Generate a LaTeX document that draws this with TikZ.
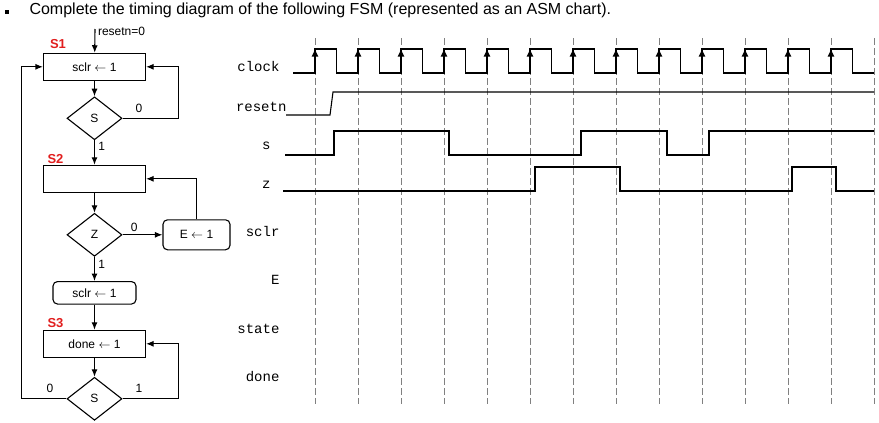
\documentclass[tikz,border=0pt]{standalone}
\usepackage{fontspec}
\setmainfont{Liberation Sans}
\newfontfamily\wavefont{Liberation Mono}
\definecolor{statered}{RGB}{225,30,30}
\definecolor{gridgray}{RGB}{128,128,128}
\usetikzlibrary{positioning,shapes.geometric,arrows.meta}

\begin{document}
\begin{tikzpicture}[x=1pt,y=-1pt,-{Latex[length=7.5pt,width=6pt]},line width=1.1pt,on grid,
asmbox/.style={rectangle,draw,minimum width=102pt,minimum height=27pt,inner sep=0pt,
font=\fontsize{12}{14}\selectfont},
condbox/.style={asmbox,rounded corners=4.5pt},
decision/.style={diamond,draw,minimum width=55pt,minimum height=43pt,inner sep=0pt,
font=\fontsize{12}{14}\selectfont},
lbl/.style={inner sep=0pt,font=\fontsize{12}{14}\selectfont},
statelbl/.style={inner sep=0pt,text=statered,font=\bfseries\fontsize{13}{15}\selectfont},
signame/.style={anchor=east,inner sep=0pt,font=\wavefont\fontsize{14}{16}\selectfont},
wave/.style={-,line width=1.1pt},
gridline/.style={-,draw=gridgray,dash pattern=on 6.5pt off 3.5pt,line width=0.9pt},
clkarrow/.style={-{Latex[length=8pt,width=7pt]},line width=1.4pt}]
  \useasboundingbox (0,0) rectangle (879,423);
  % title
  \fill (5,10) rectangle (9,14);
  \node[anchor=base west,inner sep=0pt,font=\fontsize{16}{19}\selectfont] (title) at (29,15)
    {Complete the timing diagram of the following FSM (represented as an ASM chart).};
  % ASM chart
  \coordinate (init) at (95,29);
  \node[lbl,anchor=west] (rst) at (97.5,31) {resetn=0};
  \node[asmbox](s1) at (94.5,66.8) {sclr $\leftarrow$ 1};
  \node[decision](ds1)[below = 51.5pt of s1] {S};
  \node[asmbox](s2)[below = 60.5pt of ds1] {};
  \node[decision](dz)[below = 56pt of s2] {Z};
  \node[condbox,minimum width=67pt,minimum height=30pt](ebox)[right = 102pt of dz] {E $\leftarrow$ 1};
  \node[condbox,minimum width=83pt,minimum height=22.5pt](csclr)[below = 58pt of dz] {sclr $\leftarrow$ 1};
  \node[asmbox](s3)[below = 51pt of csclr] {done $\leftarrow$ 1};
  \node[decision](ds3)[below = 55pt of s3] {S};
  \node[statelbl](lS1) at (58,44) {S1};
  \node[statelbl](lS2) at (55.5,159) {S2};
  \node[statelbl](lS3) at (55.5,323) {S3};
  \draw (init) -- (s1);
  \draw (s1) -- (ds1);
  \draw (ds1.east) -- ++(55.7,0) |- (s1.east);
  \draw (ds1) -- (s2);
  \draw (s2) -- (dz);
  \draw (dz) -- (ebox);
  \draw (ebox.north) |- (s2.east);
  \draw (dz) -- (csclr);
  \draw (csclr) -- (s3);
  \draw (s3) -- (ds3);
  \draw (ds3.east) -- ++(55.7,0) |- (s3.east);
  \draw (ds3.west) -- ++(-44.6,0) |- (s1.west);
  \node[lbl](b0a) at (139,108.3) {0};
  \node[lbl](b1a) at (101.7,146.7) {1};
  \node[lbl](b0b) at (134.3,227.3) {0};
  \node[lbl](b1b) at (101.7,264.3) {1};
  \node[lbl](b0c) at (50,388.3) {0};
  \node[lbl](b1c) at (139,388.3) {1};
  % timing diagram
  \node[signame](nclock) at (280,66) {clock};
  \node[signame](nresetn) at (287,107) {resetn};
  \node[signame](ns) at (271,146) {s};
  \node[signame](nz) at (271,185) {z};
  \node[signame](nsclr) at (280,231) {sclr};
  \node[signame](nE) at (280,280) {E};
  \node[signame](nstate) at (280,329) {state};
  \node[signame](ndone) at (280,377) {done};
  \foreach \k in {0,...,13}
    \draw[gridline] ({315+43*\k},38) -- ({315+43*\k},404);
  \draw[wave] (293,73) \foreach \k in {0,...,12} { -- ({315+43*\k},73) -- ({315+43*\k},49)
    -- ({336.5+43*\k},49) -- ({336.5+43*\k},73) } -- (874,73);
  \draw[wave] (286,115) -- (330,115) -- (333,92) -- (874,92);
  \draw[wave] (285,155) -- (334,155) -- (334,131) -- (449,131) -- (449,155) -- (581,155)
    -- (581,131) -- (667,131) -- (667,155) -- (709,155) -- (709,131) -- (874,131);
  \draw[wave] (283,191) -- (535,191) -- (535,167) -- (620,167) -- (620,191) -- (792,191)
    -- (792,167) -- (836,167) -- (836,191) -- (874,191);
  \foreach \k in {0,...,12}
    \draw[clkarrow] ({315+43*\k},73) -- ({315+43*\k},48.5);
\end{tikzpicture}
\end{document}
